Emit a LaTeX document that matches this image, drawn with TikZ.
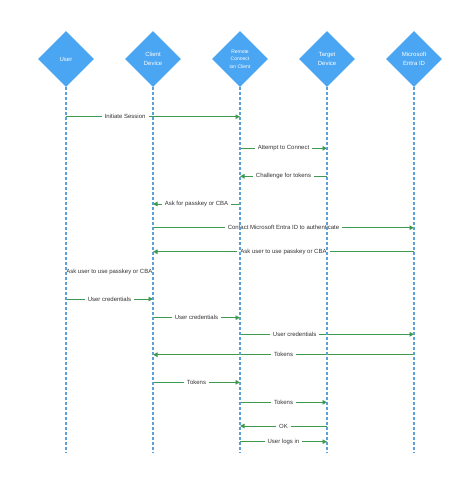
\documentclass[tikz,border=0pt]{standalone}
\usepackage{fontspec}
\setmainfont{Liberation Sans}
\usetikzlibrary{shapes.geometric,arrows.meta}
\definecolor{diafill}{HTML}{4AA6F2}
\definecolor{lifecol}{HTML}{5B9FDB}
\definecolor{msgcol}{HTML}{3E9A50}
\definecolor{txtcol}{HTML}{333333}
\tikzset{
  actor/.style={diamond, fill=diafill, draw=none, inner sep=0pt, minimum width=56pt, minimum height=56pt, text=white, align=center, font=\fontsize{6}{8.6}\selectfont},
  lifeline/.style={draw=lifecol, line width=1.2pt, dash pattern=on 3pt off 2pt},
  msg/.style={draw=msgcol, line width=0.9pt, -{Triangle[length=4.5pt,width=4.5pt]}},
  lbl/.style={fill=white, text=txtcol, inner xsep=3pt, inner ysep=1pt, font=\fontsize{6}{7}\selectfont},
  freelbl/.style={text=txtcol, inner sep=0pt, font=\fontsize{6}{7}\selectfont}
}
\begin{document}
\begin{tikzpicture}[x=1pt,y=-1pt]
\useasboundingbox (0,0) rectangle (474,486);
% actors
\node[actor] (u) at (66,59) {User};
\node[actor] (c) at (153,59) {Client\\Device};
\node[actor, font=\fontsize{5}{7.5}\selectfont] (r) at (240,59) {Remote\\Connect\\ion Client};
\node[actor] (t) at (327,59) {Target\\Device};
\node[actor] (e) at (414,59) {Microsoft\\Entra ID};
% lifeline ends
\coordinate (ub) at (66,453);
\coordinate (cb) at (153,453);
\coordinate (rb) at (240,453);
\coordinate (tb) at (327,453);
\coordinate (eb) at (414,453);
% message rows
\coordinate (y1) at (0,116.7);
\coordinate (y2) at (0,148.3);
\coordinate (y3) at (0,176.3);
\coordinate (y4) at (0,204);
\coordinate (y5) at (0,227.7);
\coordinate (y6) at (0,251.7);
\coordinate (y8) at (0,299);
\coordinate (y9) at (0,317.7);
\coordinate (y10) at (0,334.3);
\coordinate (y11) at (0,354.7);
\coordinate (y12) at (0,382.3);
\coordinate (y13) at (0,402.3);
\coordinate (y14) at (0,426);
\coordinate (y15) at (0,441.7);
% messages
\draw[msg] (u |- y1) -- node[lbl, pos=0.34] {Initiate Session} (r |- y1);
\draw[msg] (r |- y2) -- node[lbl] {Attempt to Connect} (t |- y2);
\draw[msg] (t |- y3) -- node[lbl] {Challenge for tokens} (r |- y3);
\draw[msg] (r |- y4) -- node[lbl] {Ask for passkey or CBA} (c |- y4);
\draw[msg] (c |- y5) -- node[lbl] {Contact Microsoft Entra ID to authenticate} (e |- y5);
\draw[msg] (e |- y6) -- node[lbl] {Ask user to use passkey or CBA} (c |- y6);
\node[freelbl] (note) at (109.3,271.7) {Ask user to use passkey or CBA};
\draw[msg] (u |- y8) -- node[lbl] {User credentials} (c |- y8);
\draw[msg] (c |- y9) -- node[lbl] {User credentials} (r |- y9);
\draw[msg] (r |- y10) -- node[lbl, pos=0.314] {User credentials} (e |- y10);
\draw[msg] (e |- y11) -- node[lbl] {Tokens} (c |- y11);
\draw[msg] (c |- y12) -- node[lbl] {Tokens} (r |- y12);
\draw[msg] (r |- y13) -- node[lbl] {Tokens} (t |- y13);
\draw[msg] (t |- y14) -- node[lbl] {OK} (r |- y14);
\draw[msg] (r |- y15) -- node[lbl] {User logs in} (t |- y15);
% lifelines
\draw[lifeline] (u.south) -- (ub);
\draw[lifeline] (c.south) -- (cb);
\draw[lifeline] (r.south) -- (rb);
\draw[lifeline] (t.south) -- (tb);
\draw[lifeline] (e.south) -- (eb);
\end{tikzpicture}
\end{document}
